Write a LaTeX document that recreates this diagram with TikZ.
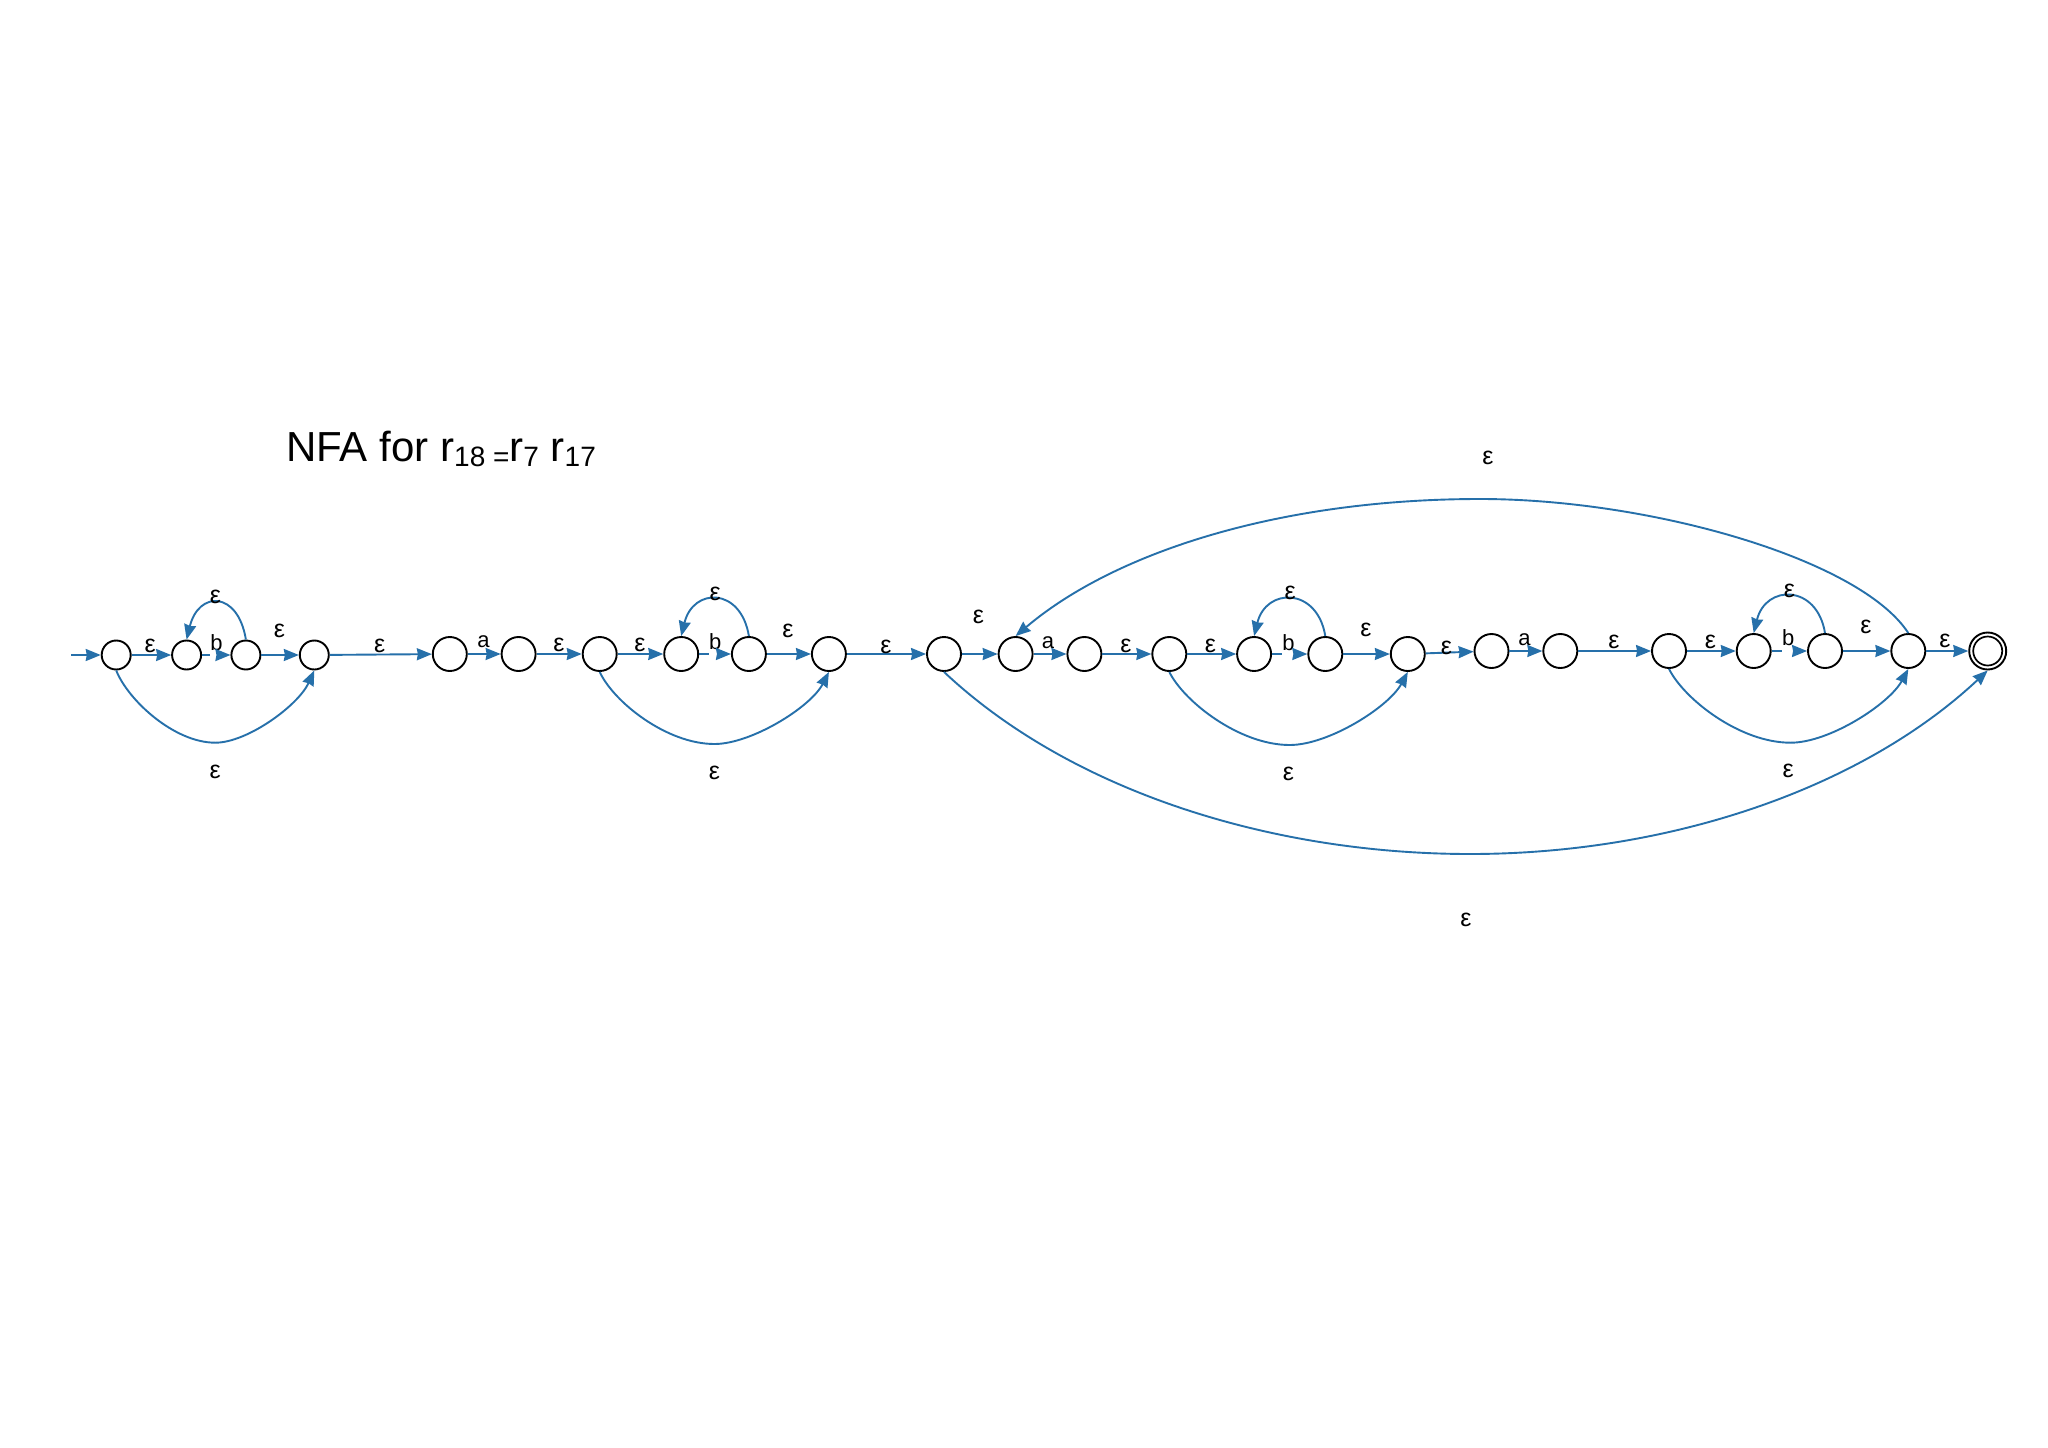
\documentclass[tikz,border=0pt]{standalone}
\usepackage{fontspec}
\setmainfont{Liberation Sans}
\usetikzlibrary{arrows.meta}
\definecolor{edgeblue}{RGB}{38,112,170}
\begin{document}
\begin{tikzpicture}[x=1pt,y=-1pt,
  st/.style={circle,draw=black,line width=1.9pt,minimum size=34pt,inner sep=0pt},
  sts/.style={st,minimum size=29pt},
  eline/.style={draw=edgeblue,line width=1.9pt},
  e/.style={eline,-{Stealth[length=15pt,width=12pt,inset=1pt]}},
  lab/.style={font=\fontsize{25}{27}\selectfont,inner sep=0pt},
  alab/.style={font=\fontsize{22}{24}\selectfont,inner sep=0pt},
  blab/.style={alab,anchor=base}]
\useasboundingbox (0,0) rectangle (2048,1448);
\fill[white] (0,0) rectangle (2048,1448);

% title
\node[anchor=base west,inner sep=0pt] (title) at (286,461.7)
  {\fontsize{42}{50}\selectfont NFA for r\raisebox{-5pt}{\fontsize{28}{30}\selectfont 18 =}r\raisebox{-5pt}{\fontsize{28}{30}\selectfont 7} r\raisebox{-5pt}{\fontsize{28}{30}\selectfont 17}};

% states
\node[sts] (n1) at (116.2,655) {};
\node[sts] (n2) at (186.6,655) {};
\node[sts] (n3) at (245.9,655) {};
\node[sts] (n4) at (314.3,655) {};
\node[st] (n5) at (449.8,654) {};
\node[st] (n6) at (518.6,654) {};
\node[st] (n7) at (599.7,654) {};
\node[st] (n8) at (681.2,654) {};
\node[st] (n9) at (748.9,654) {};
\node[st] (n10) at (828.9,654) {};
\node[st] (n11) at (944.0,654) {};
\node[st] (n12) at (1015.6,654) {};
\node[st] (n13) at (1084.4,654) {};
\node[st] (n14) at (1169.3,654) {};
\node[st] (n15) at (1254.1,654) {};
\node[st] (n16) at (1325.3,654) {};
\node[st] (n17) at (1407.8,654) {};
\node[st] (n18) at (1491.5,651) {};
\node[st] (n19) at (1560.3,651) {};
\node[st] (n20) at (1669.0,651) {};
\node[st] (n21) at (1753.7,651) {};
\node[st] (n22) at (1825.0,651) {};
\node[st] (n23) at (1908.3,651) {};
\node[st,minimum size=37pt] (n24) at (1987.7,651) {};
\draw[line width=1.7pt] (n24.center) circle (14.5pt);

\coordinate (start) at (71,655);
\coordinate (b1) at (215.3,742.7);
\coordinate (b2) at (714.5,744);
\coordinate (b3) at (1289.7,745);
\coordinate (b4) at (1790.6,742.7);
\coordinate (bb) at (1470,854);
\coordinate (tt) at (1480,499);

% b labels (the line is interrupted under them)
\node[blab] (lb1) at (216.4,650) {b};
\node[blab] (lb2) at (715.3,649) {b};
\node[blab] (lb3) at (1288.5,650) {b};
\node[blab] (lb4) at (1788.3,645.5) {b};

% straight edges
\draw[e] (start) -- (n1);
\draw[e] (n1) -- (n2);
\draw[eline] (n2) -- (lb1.west |- n2);
\draw[e] (lb1.east |- n3) -- (n3);
\draw[e] (n3) -- (n4);
\draw[e] (n4) -- (n5);
\draw[e] (n5) -- (n6);
\draw[e] (n6) -- (n7);
\draw[e] (n7) -- (n8);
\draw[eline] (n8) -- (lb2.west |- n8);
\draw[e] (lb2.east |- n9) -- (n9);
\draw[e] (n9) -- (n10);
\draw[e] (n10) -- (n11);
\draw[e] (n11) -- (n12);
\draw[e] (n12) -- (n13);
\draw[e] (n13) -- (n14);
\draw[e] (n14) -- (n15);
\draw[eline] (n15) -- (lb3.west |- n15);
\draw[e] (lb3.east |- n16) -- (n16);
\draw[e] (n16) -- (n17);
\draw[e] (n17) -- (n18);
\draw[e] (n18) -- (n19);
\draw[e] (n19) -- (n20);
\draw[e] (n20) -- (n21);
\draw[eline] (n21) -- (lb4.west |- n21);
\draw[e] (lb4.east |- n22) -- (n22);
\draw[e] (n22) -- (n23);
\draw[e] (n23) -- (n24);

% star loops
\draw[e] (n3.north) .. controls +(-8,-49) and +(12,-49) .. (n2.north);
\draw[e] (n9.north) .. controls +(-8,-49) and +(12,-49) .. (n8.north);
\draw[e] (n16.north) .. controls +(-8,-49) and +(12,-49) .. (n15.north);
\draw[e] (n22.north) .. controls +(-8,-49) and +(12,-49) .. (n21.north);

% bypasses
\draw[e] (n1.south) .. controls +(12,30) and +(-41,0) .. (b1) .. controls +(32,0) and +(-16,35) .. (n4.south);
\draw[e] (n7.south) .. controls +(14,30) and +(-48,0) .. (b2) .. controls +(37,0) and +(-18,35) .. (n10.south);
\draw[e] (n14.south) .. controls +(15,30) and +(-50,0) .. (b3) .. controls +(39,0) and +(-19,35) .. (n17.south);
\draw[e] (n20.south) .. controls +(15,30) and +(-51,0) .. (b4) .. controls +(39,0) and +(-19,35) .. (n23.south);

% big arcs
\draw[e] (n11.south) .. controls +(126,118.5) and +(-200,0) .. (bb) .. controls +(200,0) and +(-126,118) .. (n24.south);
\draw[e] (n23.north) .. controls +(-48,-74) and +(170,0) .. (tt) .. controls +(-200,0) and +(99,-84) .. (n12.north);

% labels
\node[lab] (l1) at (150.2,646) {ε};
\node[lab] (l2) at (215.5,597) {ε};
\node[lab] (l3) at (279.5,631) {ε};
\node[lab] (l4) at (215.3,772) {ε};
\node[lab] (l5) at (379.8,646) {ε};
\node[alab] (l6) at (483.4,642) {a};
\node[lab] (l7) at (559,645) {ε};
\node[lab] (l8) at (640,645) {ε};
\node[lab] (l9) at (715.3,593.5) {ε};
\node[lab] (l10) at (788,630.5) {ε};
\node[lab] (l11) at (714.5,773) {ε};
\node[lab] (l12) at (886,646.5) {ε};
\node[lab] (l13) at (978.5,617) {ε};
\node[alab] (l14) at (1048,643) {a};
\node[lab] (l15) at (1126,646) {ε};
\node[lab] (l16) at (1210.5,645.5) {ε};
\node[lab] (l17) at (1290.3,593.3) {ε};
\node[lab] (l18) at (1366,630) {ε};
\node[lab] (l19) at (1288.5,773.5) {ε};
\node[lab] (l20) at (1446.5,647.5) {ε};
\node[alab] (l21) at (1524.5,640) {a};
\node[lab] (l22) at (1614,642) {ε};
\node[lab] (l23) at (1710.5,642) {ε};
\node[lab] (l24) at (1789.5,590.5) {ε};
\node[lab] (l25) at (1866,627) {ε};
\node[lab] (l26) at (1788.3,771) {ε};
\node[lab] (l27) at (1945,640.5) {ε};
\node[lab] (l28) at (1488,458) {ε};
\node[lab] (l29) at (1466,920) {ε};
\end{tikzpicture}
\end{document}
